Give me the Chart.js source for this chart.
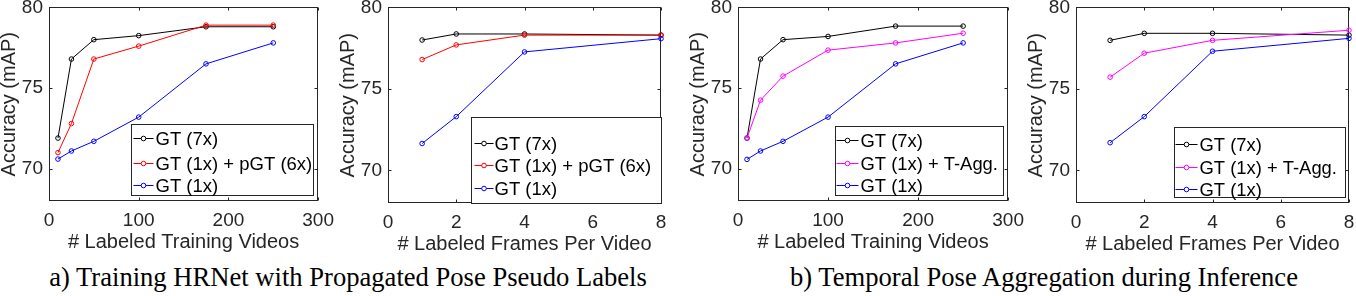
<!DOCTYPE html>
<html>
<head>
<meta charset="utf-8">
<script src="https://cdn.jsdelivr.net/npm/chart.js@4/dist/chart.umd.min.js"></script>
<style>
html,body{margin:0;padding:0;background:#fff;width:1356px;height:296px;overflow:hidden;position:relative}
canvas{position:absolute;top:0}
.cap{position:absolute;top:262px;width:800px;text-align:center;white-space:nowrap;font-family:"Liberation Serif","Times New Roman",serif;font-size:26.6px;line-height:30px;color:#000}
</style>
</head>
<body>
<canvas id="c1"></canvas>
<canvas id="c2"></canvas>
<canvas id="c3"></canvas>
<canvas id="c4"></canvas>
<div class="cap" style="left:-52px">a) Training HRNet with Propagated Pose Pseudo Labels</div>
<div class="cap" style="left:644px">b) Temporal Pose Aggregation during Inference</div>
<script>
// ---------- data ----------
const videoCounts = [10, 25, 50, 100, 175, 250];
const framesPerVideo = [1, 2, 4, 8];
const videoTicks = [0, 100, 200, 300];
const frameTicks = [0, 2, 4, 6, 8];
const accTicks = [70, 75, 80];

const labelsA = ['GT (7x)', 'GT (1x) + pGT (6x)', 'GT (1x)'];
const labelsB = ['GT (7x)', 'GT (1x) + T-Agg.', 'GT (1x)'];

// a) left: accuracy vs labeled training videos
const a1Gt7 = [71.9, 76.8, 78.0, 78.25, 78.8, 78.8];
const a1Pgt = [71.0, 72.8, 76.8, 77.6, 78.9, 78.9];
const a1Gt1 = [70.6, 71.1, 71.7, 73.2, 76.5, 77.8];
// a) right: accuracy vs labeled frames per video
const a2Gt7 = [78.0, 78.37, 78.37, 78.3];
const a2Pgt = [76.8, 77.7, 78.3, 78.3];
const a2Gt1 = [71.65, 73.3, 77.27, 78.08];
// b) left
const b1Gt7 = [71.9, 76.8, 78.0, 78.2, 78.84, 78.84];
const b1Tagg = [71.9, 74.25, 75.74, 77.35, 77.8, 78.4];
const b1Gt1 = [70.58, 71.1, 71.7, 73.2, 76.5, 77.8];
// b) right
const b2Gt7 = [77.98, 78.41, 78.41, 78.3];
const b2Tagg = [75.72, 77.19, 77.98, 78.6];
const b2Gt1 = [71.7, 73.3, 77.31, 78.1];

const yTitle = 'Accuracy (mAP)';
const xTitleVideos = '# Labeled Training Videos';
const xTitleFrames = '# Labeled Frames Per Video';

// ---------- styling ----------
const FONT = '"Liberation Sans", Arial, Helvetica, sans-serif';
const AX = '#262626';
const XH = 55;   // height reserved under the plot for x tick labels + title
const YW = 52;   // width reserved left of the plot for y tick labels + title

function makeBoxPlugin(lg) {
  return {
    id: 'matlabBox',
    beforeDatasetsDraw(chart) {
      const {ctx, chartArea: a, scales: {x, y}} = chart;
      ctx.save();
      ctx.strokeStyle = AX; ctx.lineWidth = 1;
      const L = 3;
      const l = Math.round(a.left) + 0.5, r = Math.round(a.right) - 0.5;
      const t = Math.round(a.top) + 0.5, b = Math.round(a.bottom) - 0.5;
      ctx.beginPath();
      x.ticks.forEach(tk => {
        const px = Math.round(x.getPixelForValue(tk.value)) + 0.5;
        ctx.moveTo(px, b); ctx.lineTo(px, b - L);
        ctx.moveTo(px, t); ctx.lineTo(px, t + L);
      });
      y.ticks.forEach(tk => {
        const py = Math.round(y.getPixelForValue(tk.value)) + 0.5;
        ctx.moveTo(l, py); ctx.lineTo(l + L, py);
        ctx.moveTo(r, py); ctx.lineTo(r - L, py);
      });
      ctx.stroke();
      ctx.strokeRect(l, t, r - l, b - t);
      ctx.restore();
    },
    afterDatasetsDraw(chart) {
      const {ctx, chartArea: a} = chart;
      const bx = Math.round(a.left + lg.x) + 0.5, by = Math.round(a.top + lg.y) + 0.5;
      ctx.save();
      ctx.fillStyle = '#ffffff';
      ctx.fillRect(bx, by, lg.w, lg.h);
      ctx.strokeStyle = AX; ctx.lineWidth = 1;
      ctx.strokeRect(bx, by, lg.w, lg.h);
      ctx.font = lg.size + 'px ' + FONT;
      ctx.textBaseline = 'middle';
      ctx.textAlign = 'left';
      for (let i = 0; i < lg.labels.length; i++) {
        const col = lg.colors[i];
        const ry = Math.round(by + lg.rows[i]) + 0.5;
        ctx.lineWidth = 1;
        ctx.strokeStyle = col;
        ctx.beginPath(); ctx.moveTo(bx + lg.l0, ry); ctx.lineTo(bx + lg.l1, ry); ctx.stroke();
        ctx.beginPath(); ctx.arc(bx + (lg.l0 + lg.l1) / 2, ry, 2.3, 0, Math.PI * 2);
        ctx.fillStyle = '#ffffff'; ctx.fill();
        ctx.strokeStyle = col; ctx.stroke();
        ctx.fillStyle = '#000000';
        ctx.fillText(lg.labels[i], bx + lg.tx, ry + 1);
      }
      ctx.restore();
    }
  };
}

function buildChart(canvas, p, W, H) {
  canvas.width = W; canvas.height = H;
  const datasets = p.series.map((s, i) => ({
    label: p.labels[i],
    data: p.xs.map((xv, j) => ({x: xv, y: s[j]})),
    borderColor: p.colors[i],
    backgroundColor: p.colors[i],
    borderWidth: 1,
    pointRadius: 2.3,
    pointBorderWidth: 1,
    pointBackgroundColor: 'rgba(255,255,255,0)',
    pointBorderColor: p.colors[i],
    tension: 0,
    clip: false,
    order: p.series.length - i
  }));
  const lg = Object.assign({labels: p.labels, colors: p.colors}, p.legend);
  return new Chart(canvas, {
    type: 'line',
    data: {datasets},
    options: {
      responsive: false,
      maintainAspectRatio: false,
      animation: false,
      events: [],
      layout: {padding: {left: 0, right: 18, top: 7, bottom: 0}},
      plugins: {legend: {display: false}, tooltip: {enabled: false}},
      scales: {
        x: {
          type: 'linear', min: p.xMin, max: p.xMax,
          afterBuildTicks: s => { s.ticks = p.xTicks.map(v => ({value: v})); },
          afterFit: s => { s.height = XH; },
          grid: {display: false, drawTicks: false},
          border: {display: false},
          ticks: {font: {family: FONT, size: 19}, color: AX, padding: 8, maxRotation: 0, autoSkip: false},
          title: {display: true, text: p.xTitle, color: AX, font: {family: FONT, size: 20}, padding: {top: 0, bottom: 2}}
        },
        y: {
          type: 'linear', min: 68, max: 80,
          afterBuildTicks: s => { s.ticks = accTicks.map(v => ({value: v})); },
          afterFit: s => { s.width = YW; },
          grid: {display: false, drawTicks: false},
          border: {display: false},
          ticks: {font: {family: FONT, size: 19}, color: AX, padding: 6},
          title: {display: true, text: yTitle, color: AX, font: {family: FONT, size: 20}, padding: {top: 0, bottom: 0}}
        }
      }
    },
    plugins: [makeBoxPlugin(lg)]
  });
}

function makeChart(id, p) {
  const canvas = document.getElementById(id);
  const dw = p.plotRight - p.plotLeft, dh = p.plotBottom - p.plotTop;
  let W = dw + YW + 18, H = dh + XH + 7;
  // first pass: measure how much the library reserves, then size the canvas so the plot box matches
  let ch = buildChart(canvas, p, W, H);
  let a = ch.chartArea;
  W += Math.round(dw - (a.right - a.left));
  H += Math.round(dh - (a.bottom - a.top));
  ch.destroy();
  ch = buildChart(canvas, p, W, H);
  a = ch.chartArea;
  canvas.style.left = Math.round(p.plotLeft - a.left) + 'px';
  canvas.style.top = Math.round(p.plotTop - a.top) + 'px';
  return ch;
}

const BLACK = '#000000', RED = '#ff0000', BLUE = '#0000ff', MAGENTA = '#ff00ff';

makeChart('c1', {
  plotLeft: 49, plotRight: 318, plotTop: 7, plotBottom: 201,
  xs: videoCounts, xMin: 0, xMax: 300, xTicks: videoTicks, xTitle: xTitleVideos,
  series: [a1Gt7, a1Pgt, a1Gt1], labels: labelsA, colors: [BLACK, RED, BLUE],
  legend: {x: 82, y: 117, w: 182, h: 71, rows: [13, 38, 60], l0: 2, l1: 22, tx: 24, size: 18.5}
});
makeChart('c2', {
  plotLeft: 388, plotRight: 661, plotTop: 7, plotBottom: 203,
  xs: framesPerVideo, xMin: 0, xMax: 8, xTicks: frameTicks, xTitle: xTitleFrames,
  series: [a2Gt7, a2Pgt, a2Gt1], labels: labelsA, colors: [BLACK, RED, BLUE],
  legend: {x: 83, y: 110, w: 190, h: 86, rows: [25, 47, 70], l0: 3, l1: 22, tx: 23, size: 18.5}
});
makeChart('c3', {
  plotLeft: 738, plotRight: 1008, plotTop: 7, plotBottom: 201,
  xs: videoCounts, xMin: 0, xMax: 300, xTicks: videoTicks, xTitle: xTitleVideos,
  series: [b1Gt7, b1Tagg, b1Gt1], labels: labelsB, colors: [BLACK, MAGENTA, BLUE],
  legend: {x: 97, y: 119, w: 168, h: 69, rows: [13.6, 36.6, 58.6], l0: 1, l1: 23, tx: 25, size: 18.4}
});
makeChart('c4', {
  plotLeft: 1076, plotRight: 1349, plotTop: 7, plotBottom: 203,
  xs: framesPerVideo, xMin: 0, xMax: 8, xTicks: frameTicks, xTitle: xTitleFrames,
  series: [b2Gt7, b2Tagg, b2Gt1], labels: labelsB, colors: [BLACK, MAGENTA, BLUE],
  legend: {x: 98, y: 120, w: 171, h: 70, rows: [16, 39, 61], l0: 1, l1: 23, tx: 25, size: 18.4}
});
</script>
</body>
</html>
